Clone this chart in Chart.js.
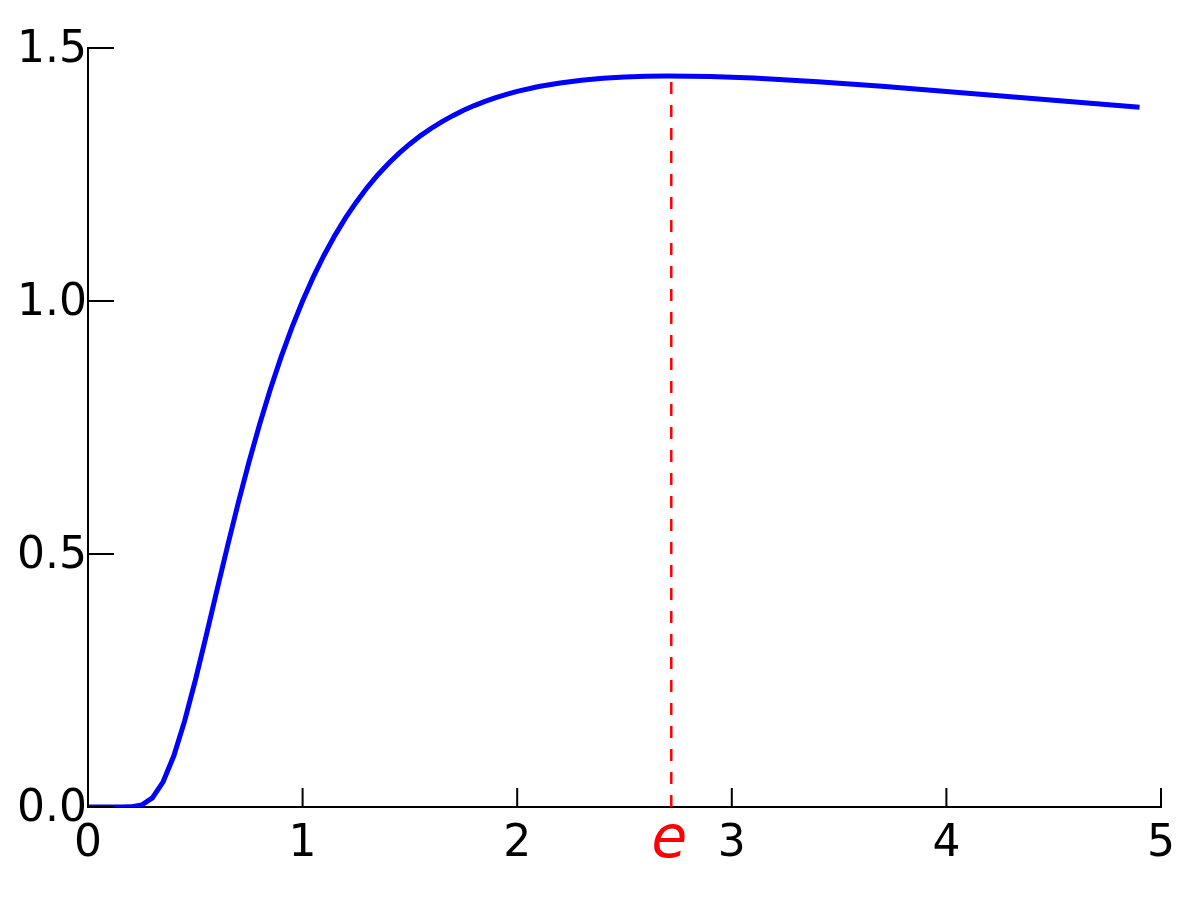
<!DOCTYPE html>
<html>
<head>
<meta charset="utf-8">
<script src="https://cdn.jsdelivr.net/npm/chart.js@4/dist/chart.umd.min.js"></script>
<style>
  html, body { margin: 0; padding: 0; background: #fff; }
  #wrap { width: 1200px; height: 900px; }
</style>
</head>
<body>
<div id="wrap"><canvas id="c"></canvas></div>
<script>
// x^(1/x) curve, values
const xVals = [0, 0.05, 0.1, 0.15, 0.2, 0.25, 0.3, 0.35, 0.4, 0.45, 0.5, 0.55, 0.6, 0.65, 0.7, 0.75,
  0.8, 0.85, 0.9, 0.95, 1.0, 1.05, 1.1, 1.15, 1.2, 1.25, 1.3, 1.35, 1.4, 1.45, 1.5, 1.55, 1.6, 1.65,
  1.7, 1.75, 1.8, 1.85, 1.9, 1.95, 2.0, 2.1, 2.2, 2.3, 2.4, 2.5, 2.6, 2.7, 2.8, 2.9, 3.0, 3.1, 3.2,
  3.3, 3.4, 3.5, 3.6, 3.7, 3.8, 3.9, 4.0, 4.1, 4.2, 4.3, 4.4, 4.5, 4.6, 4.7, 4.8, 4.9];
const yVals = [0, 0, 0, 0.0000, 0.0003, 0.0039, 0.0181, 0.0498, 0.1012, 0.1696, 0.25, 0.3372, 0.4268,
  0.5154, 0.6008, 0.6814, 0.7566, 0.8260, 0.8895, 0.9474, 1.0, 1.0476, 1.0905, 1.1292, 1.1641,
  1.1954, 1.2236, 1.2490, 1.2717, 1.2921, 1.3104, 1.3268, 1.3414, 1.3546, 1.3663, 1.3768, 1.3862,
  1.3945, 1.4019, 1.4084, 1.4142, 1.4238, 1.4310, 1.4364, 1.4402, 1.4427, 1.4441, 1.4447, 1.4444,
  1.4436, 1.4422, 1.4405, 1.4383, 1.4359, 1.4332, 1.4303, 1.4273, 1.4242, 1.4209, 1.4176, 1.4142,
  1.4108, 1.4073, 1.4038, 1.4004, 1.3969, 1.3934, 1.3900, 1.3865, 1.3831];

// marker at x = e, up to the maximum
const eX = 2.718;
const eLineY = [0, 1.4447];
const eLabel = 'e';

const xTicks = [0, 1, 2, 3, 4, 5];
const yTicks = [0, 0.5, 1.0, 1.5];

const FONT = 'DejaVu Sans';

const curve = xVals.map((x, i) => ({ x, y: yVals[i] }));
const eLine = eLineY.map(y => ({ x: eX, y }));

// inward tick marks (matplotlib style) + the red "e" label
const axisExtras = {
  id: 'axisExtras',
  afterDraw(chart) {
    const { ctx, chartArea, scales } = chart;
    ctx.save();
    ctx.strokeStyle = '#000';
    ctx.lineWidth = 2;
    ctx.beginPath();
    xTicks.forEach(v => {
      const px = scales.x.getPixelForValue(v);
      ctx.moveTo(px, chartArea.bottom);
      ctx.lineTo(px, chartArea.bottom - 19);
    });
    yTicks.forEach(v => {
      const py = scales.y.getPixelForValue(v);
      ctx.moveTo(chartArea.left, py);
      ctx.lineTo(chartArea.left + 26, py);
    });
    ctx.stroke();

    ctx.fillStyle = '#ff0000';
    ctx.font = 'italic 58px "' + FONT + '"';
    ctx.textAlign = 'center';
    ctx.textBaseline = 'alphabetic';
    ctx.fillText(eLabel, scales.x.getPixelForValue(eX) - 2, chartArea.bottom + 50);
    ctx.restore();
  }
};

new Chart(document.getElementById('c'), {
  type: 'scatter',
  data: {
    datasets: [
      {
        data: eLine,
        showLine: true,
        borderColor: '#ff0000',
        borderWidth: 2.5,
        borderDash: [12, 11],
        pointRadius: 0
      },
      {
        data: curve,
        showLine: true,
        borderColor: '#0000ff',
        borderWidth: 5,
        pointRadius: 0,
        tension: 0
      }
    ]
  },
  options: {
    responsive: true,
    maintainAspectRatio: false,
    devicePixelRatio: 1,
    animation: false,
    layout: { padding: { top: 48, right: 39, left: 0, bottom: 0 } },
    plugins: { legend: { display: false }, tooltip: { enabled: false } },
    scales: {
      x: {
        type: 'linear',
        min: 0,
        max: 5,
        afterBuildTicks: s => { s.ticks = xTicks.map(v => ({ value: v })); },
        afterFit: s => { s.height = 93; },
        grid: { display: false, drawTicks: false },
        border: { display: true, color: '#000', width: 2 },
        ticks: {
          padding: 11,
          autoSkip: false,
          maxRotation: 0,
          color: '#000',
          font: { family: FONT, size: 44 },
          callback: v => String(v)
        }
      },
      y: {
        type: 'linear',
        min: 0,
        max: 1.5,
        afterBuildTicks: s => { s.ticks = yTicks.map(v => ({ value: v })); },
        afterFit: s => { s.width = 88; },
        grid: { display: false, drawTicks: false },
        border: { display: true, color: '#000', width: 2 },
        ticks: {
          padding: 1,
          labelOffset: 3,
          color: '#000',
          font: { family: FONT, size: 44 },
          callback: v => v.toFixed(1)
        }
      }
    }
  },
  plugins: [axisExtras]
});
</script>
</body>
</html>
